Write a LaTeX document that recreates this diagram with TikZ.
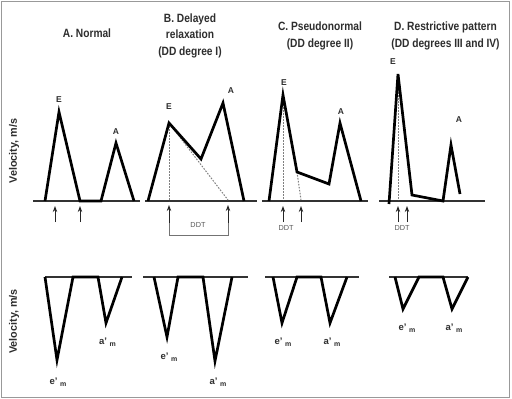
\documentclass[tikz,border=0pt]{standalone}
\usepackage{fontspec}
\setmainfont{Liberation Sans}
\newfontfamily\nbf[FakeStretch=0.85]{Liberation Sans Bold}
\usetikzlibrary{arrows.meta}
\definecolor{txt}{HTML}{2E2E2E}
\newcommand\tdilbl[1]{#1'\hspace{2.5pt}\raisebox{-2.5pt}{\fontsize{7}{7}\selectfont m}}
\begin{document}
\begin{tikzpicture}[x=1pt,y=-1pt,
  wave/.style={line width=2.7pt, line join=miter, black},
  baseaxis/.style={line width=1.5pt, black!80},
  guide/.style={black!50, line width=1pt, dash pattern=on 1.6pt off 1.4pt},
  uparrow/.style={line width=0.9pt, black!85, -{Stealth[length=6pt,width=4.4pt]}},
  bracketline/.style={line width=0.8pt, black!55},
  ttl/.style={font=\nbf\fontsize{12}{14}\selectfont, text=txt, anchor=base, inner sep=0pt},
  ylab/.style={font=\bfseries\fontsize{10.8}{12}\selectfont, text=txt, rotate=90, inner sep=0pt},
  pklab/.style={font=\bfseries\fontsize{8.5}{10}\selectfont, text=txt, inner sep=0pt},
  ddtlab/.style={font=\fontsize{7.3}{8}\selectfont, text=black!65, inner sep=0pt},
  tdilab/.style={font=\bfseries\fontsize{9.5}{10}\selectfont, text=txt, inner sep=0pt}
]
\useasboundingbox (0,0) rectangle (512,399);
\fill[white] (0,0) rectangle (512,399);
\draw[black!40, line width=0.8pt] (1.5,1.5) rectangle (509,397);

% titles
\node[ttl] (tA) at (87,37.3) {A. Normal};
\node[ttl] (tB1) at (190,22) {B. Delayed};
\node[ttl] (tB2) at (190,38.5) {relaxation};
\node[ttl] (tB3) at (190,55) {(DD degree I)};
\node[ttl] (tC1) at (320,30.7) {C. Pseudonormal};
\node[ttl] (tC2) at (320,47.7) {(DD degree II)};
\node[ttl] (tD1) at (445.5,30.7) {D. Restrictive pattern};
\node[ttl] (tD2) at (445.5,47.7) {(DD degrees III and IV)};

% y labels
\node[ylab] (yt) at (14,151) {Velocity, m/s};
\node[ylab] (yb) at (14,321.5) {Velocity, m/s};

% top row baselines
\draw[baseaxis] (33,201) -- (140,201);
\draw[baseaxis] (145,201) -- (257,201);
\draw[baseaxis] (262,201) -- (368,201);
\draw[baseaxis] (379,201) -- (485,201);

% guides
\draw[guide] (169,123) -- (169,201);
\draw[guide] (169,123) -- (228,200);
\draw[guide] (283,95) -- (283,200);
\draw[guide] (297,172) -- (301,200);
\draw[guide] (398,74) -- (398,200);

% top waves
\draw[wave] (45,201) -- (59,112) -- (80,201) -- (101,201) -- (116,143) -- (134,201);
\draw[wave] (148,201) -- (169,123) -- (201,159) -- (223,103) -- (244,201);
\draw[wave] (269,201) -- (283,95) -- (297,172) -- (329,184) -- (340,123) -- (361,201);
\draw[wave] (389,204) -- (398,74) -- (412,195) -- (443,201) -- (451,145) -- (460,194);

% peak labels
\node[pklab] (eA) at (59,100) {E};
\node[pklab] (aA) at (116,132) {A};
\node[pklab] (eB) at (169,107) {E};
\node[pklab] (aB) at (231,91) {A};
\node[pklab] (eC) at (284,83) {E};
\node[pklab] (aC) at (341,112) {A};
\node[pklab] (eD) at (393,62) {E};
\node[pklab] (aD) at (459,120) {A};

% arrows
\coordinate (a1s) at (55,222); \coordinate (a1e) at (55,206);
\coordinate (a2s) at (80,222); \coordinate (a2e) at (80,206);
\coordinate (b1s) at (169,223); \coordinate (b1e) at (169,205);
\coordinate (b2s) at (228,223); \coordinate (b2e) at (228,205);
\coordinate (c1s) at (283,222); \coordinate (c1e) at (283,206);
\coordinate (c2s) at (301,222); \coordinate (c2e) at (301,206);
\coordinate (d1s) at (398,222); \coordinate (d1e) at (398,206);
\coordinate (d2s) at (407,222); \coordinate (d2e) at (407,206);
\foreach \p in {a1,a2,b1,b2,c1,c2,d1,d2} \draw[uparrow] (\p s) -- (\p e);
\draw[bracketline] (b1s) -- (169,235) -- (228,235) -- (b2s);

\node[ddtlab] (ddtB) at (198,225) {DDT};
\node[ddtlab] (ddtC) at (286,228) {DDT};
\node[ddtlab] (ddtD) at (402,228) {DDT};

% bottom row baselines
\draw[baseaxis] (45,277) -- (132,277);
\draw[baseaxis] (143,277) -- (248,277);
\draw[baseaxis] (265,277) -- (359,277);
\draw[baseaxis] (389,277) -- (468,277);

% bottom waves
\draw[wave] (45,277) -- (57,360) -- (73,277) -- (98,277) -- (106,323) -- (122,277);
\draw[wave] (154,277) -- (167,337) -- (178,277) -- (203,277) -- (215,361) -- (232,277);
\draw[wave] (273,277) -- (282,323) -- (297,277) -- (321,277) -- (330,323) -- (347,277);
\draw[wave] (395,277) -- (403,309) -- (419,277) -- (443,277) -- (452,309) -- (468,277);

% tissue Doppler labels
\node[tdilab] (emA) at (58,382) {\tdilbl{e}};
\node[tdilab] (amA) at (107.5,342) {\tdilbl{a}};
\node[tdilab] (emB) at (169,357) {\tdilbl{e}};
\node[tdilab] (amB) at (218,382) {\tdilbl{a}};
\node[tdilab] (emC) at (283,342) {\tdilbl{e}};
\node[tdilab] (amC) at (332,342) {\tdilbl{a}};
\node[tdilab] (emD) at (407,328) {\tdilbl{e}};
\node[tdilab] (amD) at (454,328) {\tdilbl{a}};
\end{tikzpicture}
\end{document}
